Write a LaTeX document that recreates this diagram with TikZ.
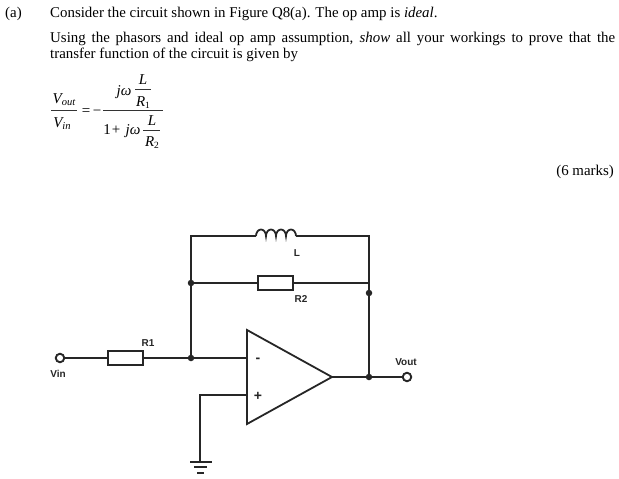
\documentclass[tikz,border=0pt]{standalone}
\usepackage{fontspec}
\setmainfont{Liberation Serif}
\newfontfamily\labelfont{Liberation Sans}
\usetikzlibrary{positioning}

\tikzset{
  wire/.style={draw=black!85,line width=1.8pt},
  resistor/.style={rectangle,draw=black!85,line width=1.8pt,fill=white,minimum width=35pt,minimum height=14pt,inner sep=0pt},
  terminal/.style={circle,draw=black!85,line width=1.9pt,fill=white,minimum size=8.5pt,inner sep=0pt},
  junction/.style={circle,fill=black!85,minimum size=6.5pt,inner sep=0pt},
  partlabel/.style={font=\labelfont\bfseries\fontsize{10}{12}\selectfont,text=black!85,inner sep=0pt},
  bodytext/.style={font=\fontsize{14.9}{16.6}\selectfont,anchor=base west,inner sep=0pt},
  mathtext/.style={font=\fontsize{15}{17}\selectfont,anchor=base,inner sep=0pt},
  mathit/.style={font=\fontsize{15}{17}\selectfont\itshape,anchor=base,inner sep=0pt},
  fracbar/.style={draw=black!80,line width=0.8pt}
}

\begin{document}
\begin{tikzpicture}[x=1pt,y=-1pt]
  \useasboundingbox (0,0) rectangle (619,479);

  % question text
  \node[bodytext] (part) at (5,17) {(a)};
  \node[bodytext] (line1) at (50,17) {Consider the circuit shown in Figure Q8(a). The op amp is \textit{ideal}.};
  \node[bodytext,text width=565pt,align=justify,anchor=base west] (line2) at (50,42)
    {Using the phasors and ideal op amp assumption, \textit{show} all your workings to prove that the\linebreak transfer function of the circuit is given by};
  \node[bodytext,anchor=base east] (marks) at (614,175) {(6 marks)};

  % transfer function
  \node[mathit] (vout) at (64,103) {V\raisebox{-2pt}{\fontsize{10.5}{12}\selectfont out}};
  \node[mathit] (vi) at (62,127) {V\raisebox{-2pt}{\fontsize{10.5}{12}\selectfont in}};
  \node[mathtext] (equal) at (86,115) {=};
  \node[mathtext] (minus) at (97,115) {−};
  \node[mathit] (jw1) at (124,95) {jω};
  \node[mathit] (l1) at (143,84) {L};
  \node[mathit] (r1t) at (143,106) {R\textup{\raisebox{-2pt}{\fontsize{9.5}{11}\selectfont 1}}};
  \node[mathtext] (one) at (107,134) {1};
  \node[mathtext] (plus) at (116,134) {+};
  \node[mathit] (jw2) at (133,134) {jω};
  \node[mathit] (l2) at (152,125) {L};
  \node[mathit] (r2t) at (152,146) {R\textup{\raisebox{-2pt}{\fontsize{9.5}{11}\selectfont 2}}};
  \coordinate (b1a) at (51,110);   \coordinate (b1b) at (77,110);
  \coordinate (b2a) at (103,110);  \coordinate (b2b) at (163,110);
  \coordinate (b3a) at (135,89);   \coordinate (b3b) at (151,89);
  \coordinate (b4a) at (143,130);  \coordinate (b4b) at (160,130);
  \draw[fracbar] (b1a) -- (b1b);
  \draw[fracbar] (b2a) -- (b2b);
  \draw[fracbar] (b3a) -- (b3b);
  \draw[fracbar] (b4a) -- (b4b);

  % circuit parts
  \node[terminal] (vin) at (60,358) {};
  \node[resistor] (r1) at (125.5,358) {};
  \node[resistor] (r2) at (275.5,283) {};
  \node[junction] (jin) at (191,358) {};
  \node[junction] (jfb) at (191,283) {};
  \node[junction] (jr) at (369,293) {};
  \node[junction] (jout) at (369,377) {};
  \node[terminal] (vo) at (407,377) {};
  \coordinate (tl) at (191,236);
  \coordinate (tr) at (369,236);
  \coordinate (la) at (256,236);
  \coordinate (lb) at (296,236);
  \coordinate (r2end) at (369,283);
  \coordinate (amptop) at (247,330);
  \coordinate (ampbot) at (247,424);
  \coordinate (ampout) at (332,377);
  \coordinate (inv) at (247,358);
  \coordinate (noninv) at (247,395);
  \coordinate (gndturn) at (200,395);
  \coordinate (gnd) at (200,462);

  % wires
  \draw[wire] (vin) -- (r1);
  \draw[wire] (r1) -- (jin);
  \draw[wire] (jin) -- (inv);
  \draw[wire] (jin) -- (jfb);
  \draw[wire] (jfb) -- (tl) -- (la);
  \draw[wire] (lb) -- (tr) -- (jr);
  \draw[wire] (jfb) -- (r2);
  \draw[wire] (r2) -- (r2end);
  \draw[wire] (jr) -- (jout);
  \draw[wire] (ampout) -- (jout);
  \draw[wire] (jout) -- (vo);
  \draw[wire] (noninv) -- (gndturn) -- (gnd);

  % inductor
  \draw[wire] (la) arc[start angle=180,end angle=360,x radius=5,y radius=6.5]
    arc[start angle=180,end angle=360,x radius=5,y radius=6.5]
    arc[start angle=180,end angle=360,x radius=5,y radius=6.5]
    arc[start angle=180,end angle=360,x radius=5,y radius=6.5];

  % op amp
  \draw[wire,line join=miter] (amptop) -- (ampout) -- (ampbot) -- cycle;
  \node[partlabel,font=\labelfont\bfseries\fontsize{14}{14}\selectfont] (minussign) at (258,360) {-};
  \node[partlabel,font=\labelfont\bfseries\fontsize{14}{14}\selectfont] (plussign) at (258,396) {+};

  % ground
  \coordinate (g1a) at (190,462);  \coordinate (g1b) at (212,462);
  \coordinate (g2a) at (194,467);  \coordinate (g2b) at (207,467);
  \coordinate (g3a) at (197,473);  \coordinate (g3b) at (204,473);
  \draw[wire] (g1a) -- (g1b);
  \draw[wire] (g2a) -- (g2b);
  \draw[wire] (g3a) -- (g3b);

  % labels
  \node[partlabel] (lbll) at (297,253) {L};
  \node[partlabel] (lblr2) at (301,299) {R2};
  \node[partlabel] (lblr1) at (148,343) {R1};
  \node[partlabel] (lblvin) at (58,374) {Vin};
  \node[partlabel] (lblvout) at (406,362) {Vout};
\end{tikzpicture}
\end{document}
